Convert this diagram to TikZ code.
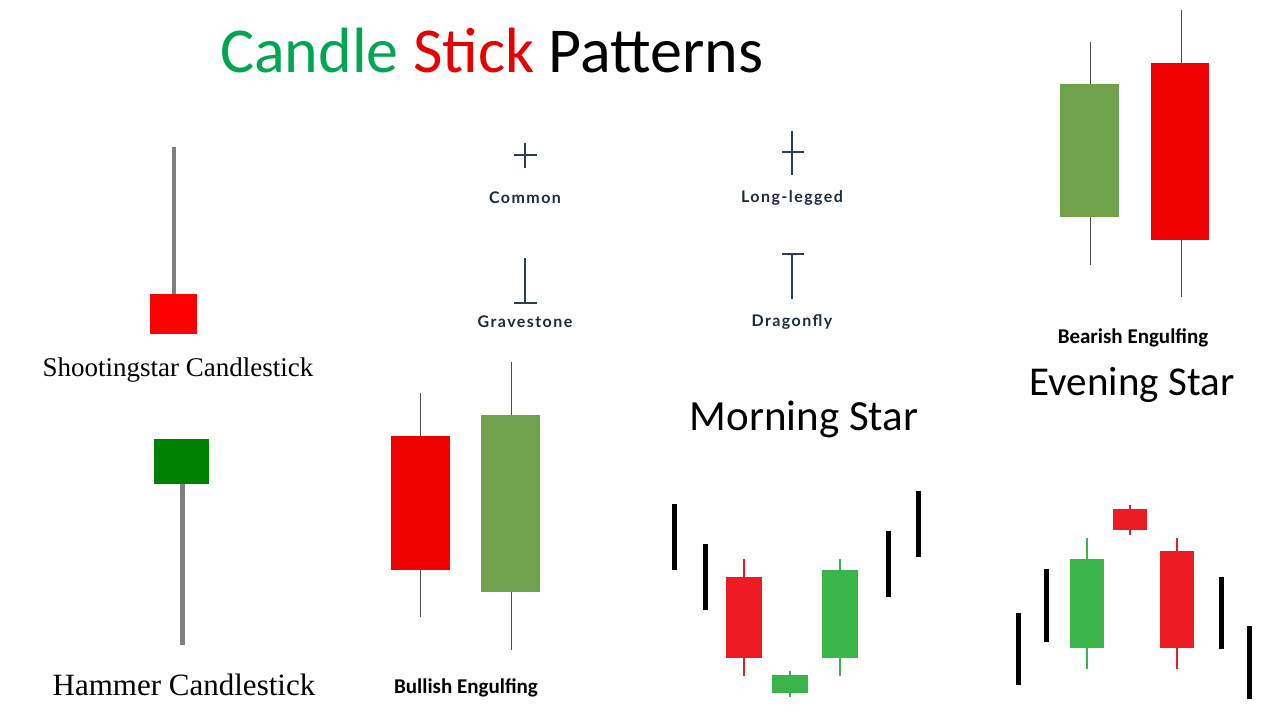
\documentclass[tikz,border=0pt]{standalone}
\usepackage{fontspec}
\setmainfont{Liberation Serif}
\newfontfamily\calfnt{Carlito}
\newfontfamily\latfnt[LetterSpace=9]{Lato}
\definecolor{tgreen}{HTML}{00A651}
\definecolor{tred}{HTML}{E60000}
\definecolor{ssred}{HTML}{FF0000}
\definecolor{hgreen}{HTML}{008000}
\definecolor{egreen}{HTML}{70A24B}
\definecolor{ered}{HTML}{EE0000}
\definecolor{mgreen}{HTML}{3AB54A}
\definecolor{mred}{HTML}{ED1C24}
\definecolor{doji}{HTML}{2C3E55}
\definecolor{wick}{HTML}{7F7F7F}
\newcommand\mycandle[7]{% x, wicktop, bodytop, bodybot, wickbot, halfwidth, color
  \draw[#7, line width=2.2pt] (#1,#2) -- (#1,#5);
  \fill[#7] (#1-#6,#3) rectangle (#1+#6,#4);}
\newcommand\myline[3]{\draw[black, line width=5pt] (#1,#2) -- (#1,#3);}
\begin{document}
\begin{tikzpicture}[x=1pt,y=-1pt,
  lbl/.style={inner sep=0pt, anchor=center},
  dojilbl/.style={lbl, font=\latfnt\bfseries\fontsize{16}{18}\selectfont, text=doji!70!black},
  dj/.style={doji, line width=1.6pt}]
\useasboundingbox[fill=white] (0,0) rectangle (1280,720);
% title
\node[lbl, anchor=base west, font=\calfnt\fontsize{64}{66}\selectfont] (title) at (220,72)
  {\textcolor{tgreen}{Candle} \textcolor{tred}{Stick} Patterns};
% shooting star
\draw[wick, line width=4pt] (174,147) -- (174,294);
\fill[ssred] (150,294) rectangle (197,334);
\node[lbl, font=\fontsize{27}{29}\selectfont] (ss) at (178,370) {Shootingstar Candlestick};
% hammer
\fill[hgreen] (154,439) rectangle (209,484);
\draw[wick, line width=5pt] (182,484) -- (182,645);
\node[lbl, font=\fontsize{31}{33}\selectfont] (ham) at (184,685) {Hammer Candlestick};
% doji
\draw[dj] (514,155) -- (537,155) (525,143) -- (525,168);
\node[dojilbl] (common) at (525,198) {Common};
\draw[dj] (782,152) -- (804,152) (792,131) -- (792,175);
\node[dojilbl] (long) at (792,198) {Long-legged};
\draw[dj] (514,303) -- (537,303) (525,258) -- (525,303);
\node[dojilbl] (grave) at (525,322) {Gravestone};
\draw[dj] (782,254) -- (804,254) (792,254) -- (792,299);
\node[dojilbl] (dragon) at (792,322) {Dragonfly};
% bullish engulfing
\draw[black!70, line width=1pt] (420,393) -- (420,617) (511,362) -- (511,650);
\fill[ered] (391,436) rectangle (450,570);
\fill[egreen] (481,415) rectangle (540,592);
\node[lbl, font=\calfnt\bfseries\fontsize{21}{23}\selectfont] (bull) at (466,688) {Bullish Engulfing};
% bearish engulfing
\draw[black!70, line width=1pt] (1090,42) -- (1090,265) (1181,10) -- (1181,297);
\fill[egreen] (1060,84) rectangle (1119,217);
\fill[ered] (1151,63) rectangle (1209,240);
\node[lbl, font=\calfnt\bfseries\fontsize{21}{23}\selectfont] (bear) at (1133,338) {Bearish Engulfing};
% morning star
\node[lbl, font=\calfnt\fontsize{43}{45}\selectfont] (morning) at (804,419) {Morning Star};
\myline{674}{504}{570}
\myline{705}{544}{610}
\mycandle{744}{559}{577}{658}{676}{18}{mred}
\mycandle{790}{671}{675}{693}{697}{18}{mgreen}
\mycandle{840}{559}{570}{658}{676}{18}{mgreen}
\myline{888}{531}{597}
\myline{918}{491}{557}
% evening star
\node[lbl, font=\calfnt\fontsize{41}{43}\selectfont] (evening) at (1132,385) {Evening Star};
\myline{1018}{613}{685}
\myline{1046}{569}{642}
\mycandle{1087}{538}{559}{648}{669}{17}{mgreen}
\mycandle{1130}{505}{509}{530}{535}{17}{mred}
\mycandle{1177}{538}{551}{648}{669}{17}{mred}
\myline{1221}{577}{649}
\myline{1249}{626}{699}
\end{tikzpicture}
\end{document}
